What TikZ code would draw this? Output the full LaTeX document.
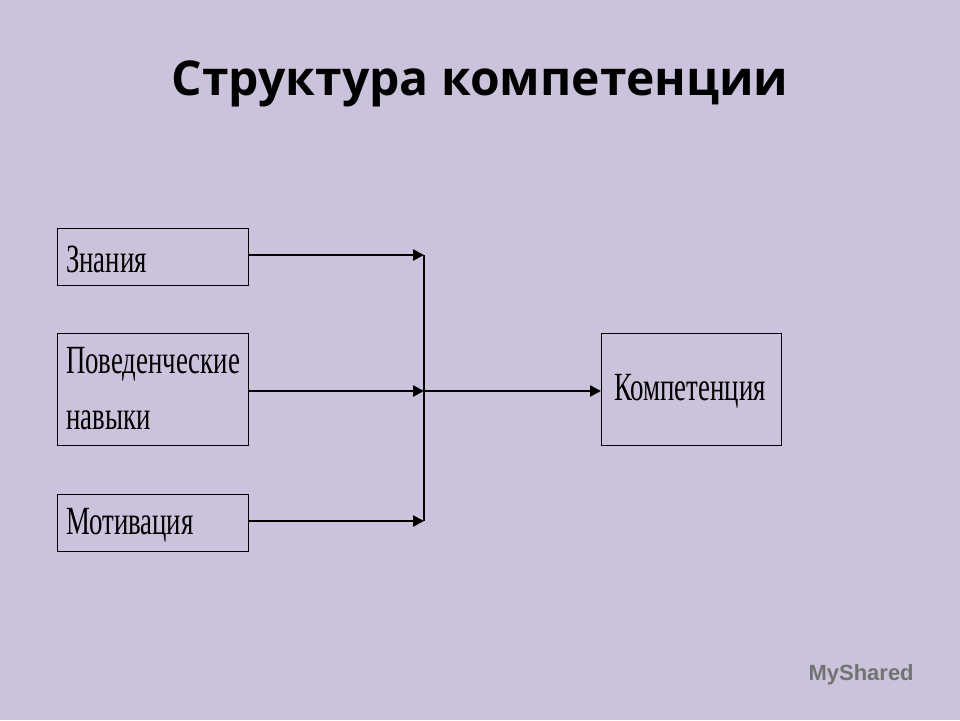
\documentclass[tikz,border=0pt]{standalone}
\usepackage{fontspec}
\setmainfont{Liberation Serif}
\newfontfamily\titlefont{Open Sans}
\newfontfamily\wmfont{Liberation Sans}
\usetikzlibrary{arrows.meta}
\definecolor{bg}{HTML}{CBC3DB}
\tikzset{
 box/.style={draw=black,line width=1.2pt,anchor=north west,inner sep=0pt},
 lbl/.style={anchor=west,inner sep=0pt,font=\fontsize{40}{44}\selectfont},
 arr/.style={line width=2.5pt,-{Triangle[length=11pt,width=11pt]}},
}
\newcommand{\cond}[1]{\scalebox{0.67}[1]{#1}}
\begin{document}
\begin{tikzpicture}[x=1pt,y=-1pt]
\fill[bg] (0,0) rectangle (960,720);
\useasboundingbox (0,0) rectangle (960,720);
\node[font=\titlefont\bfseries\fontsize{48}{52}\selectfont] (title) at (480,84) {Структура компетенции};
\node[box,minimum width=191pt,minimum height=57pt] (b1) at (57,228) {};
\node[box,minimum width=191pt,minimum height=112pt] (b2) at (57,333) {};
\node[box,minimum width=191pt,minimum height=57pt] (b3) at (57,494) {};
\node[box,minimum width=180pt,minimum height=112pt] (b4) at (601,333) {};
\node[lbl] (t1) at (66,259) {\cond{Знания}};
\node[lbl] (t2a) at (66,364) {\cond{Поведенческие}};
\node[lbl] (t2b) at (66,420) {\cond{навыки}};
\node[lbl] (t3) at (66,525) {\cond{Мотивация}};
\node[lbl] (t4) at (614,391) {\cond{Компетенция}};
\coordinate (j1) at (424,255);
\coordinate (j2) at (424,391);
\coordinate (j3) at (424,521);
\draw[arr] (b1.east|-j1) -- (j1);
\draw[arr] (b2.east|-j2) -- (j2);
\draw[arr] (b3.east|-j3) -- (j3);
\draw[line width=1.2pt] (j1) -- (j3);
\draw[arr] (j2) -- (b4.west|-j2);
\node[font=\wmfont\bfseries\fontsize{22}{24}\selectfont,text=gray!90!black,anchor=west] (wm) at (805,675) {MyShared};
\end{tikzpicture}
\end{document}
